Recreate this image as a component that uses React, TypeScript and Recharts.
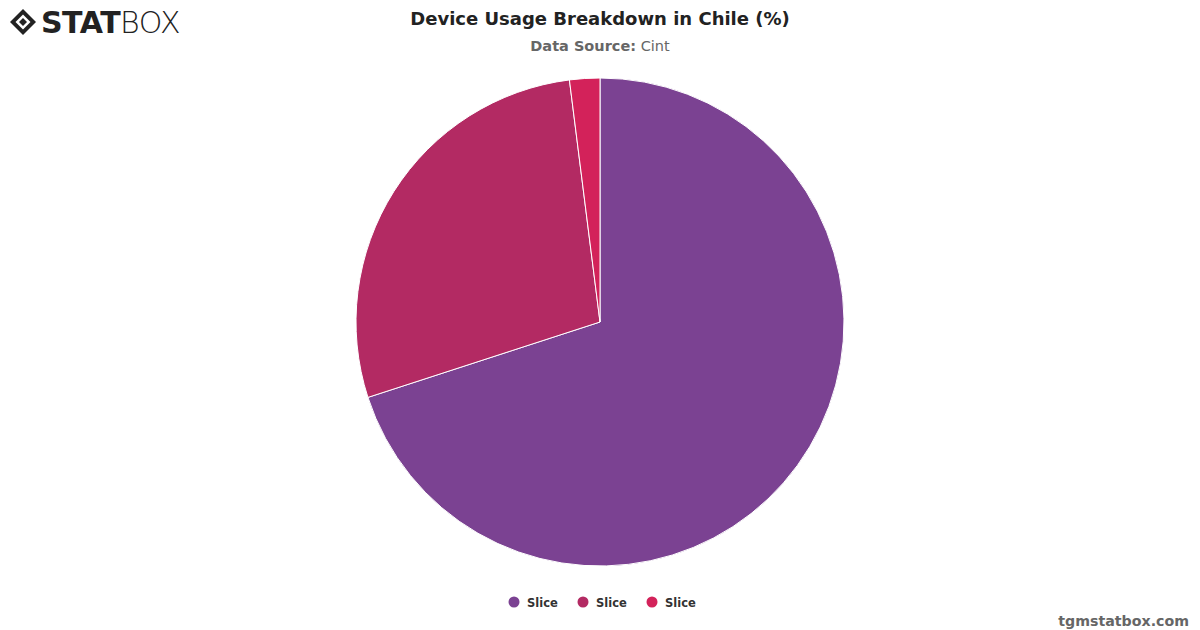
import React from "react";
import { PieChart, Pie, Cell, Customized } from "recharts";

const categories = ["Slice", "Slice", "Slice"];
const values = [70, 28, 2];
const colors = ["#7B4292", "#B32A63", "#D3225A"];

const data = categories.map((name, i) => ({ name, value: values[i] }));

const FONT = "'DejaVu Sans', sans-serif";

const Overlay = () => (
  <g>
    {/* logo */}
    <g transform="translate(10,9)">
      <path d="M13 0 L26 13 L13 26 L0 13 Z" fill="#222" />
      <path d="M13 5.5 L20.5 13 L13 20.5 L5.5 13 Z" fill="#fff" />
      <path d="M13 9 L17 13 L13 17 L9 13 Z" fill="#222" />
    </g>
    <text x={41} y={33} fontFamily={FONT} fontSize={30} fill="#222" letterSpacing={-0.5}>
      <tspan fontWeight={900}>STAT</tspan>
      <tspan fontWeight={300}>BOX</tspan>
    </text>
    {/* title */}
    <text x={600} y={25} textAnchor="middle" fontFamily={FONT} fontSize={18} fontWeight="bold" fill="#222">
      Device Usage Breakdown in Chile (%)
    </text>
    <text x={600} y={51} textAnchor="middle" fontFamily={FONT} fontSize={14.5} fill="#666">
      <tspan fontWeight="bold">Data Source:</tspan>
      <tspan> Cint</tspan>
    </text>
    {/* legend */}
    {categories.map((c, i) => (
      <g key={i}>
        <circle cx={514 + i * 69} cy={602} r={5.5} fill={colors[i]} />
        <text x={527 + i * 69} y={606.5} fontFamily={FONT} fontSize={11.5} fontWeight="bold" fill="#333">
          {c}
        </text>
      </g>
    ))}
    {/* footer */}
    <text x={1189} y={626} textAnchor="end" fontFamily={FONT} fontSize={14.2} fontWeight="bold" fill="#666">
      tgmstatbox.com
    </text>
  </g>
);

export default function App() {
  return (
    <div style={{ position: "absolute", left: 0, top: 0, width: 1200, height: 630, background: "#fff" }}>
      <PieChart width={1200} height={630} margin={{ top: 0, right: 0, bottom: 0, left: 0 }}>
        <Pie
          data={data}
          dataKey="value"
          nameKey="name"
          cx={600}
          cy={322}
          outerRadius={244}
          startAngle={90}
          endAngle={-270}
          stroke="#fff"
          strokeWidth={1}
          isAnimationActive={false}
          label={false}
          labelLine={false}
        >
          {data.map((_, i) => (
            <Cell key={i} fill={colors[i]} />
          ))}
        </Pie>
        <Customized component={Overlay} />
      </PieChart>
    </div>
  );
}
